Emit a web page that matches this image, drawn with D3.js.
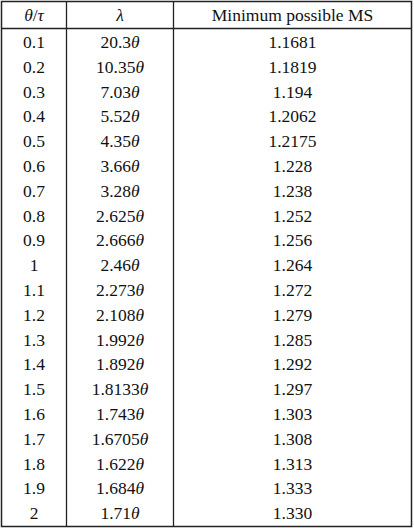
<!DOCTYPE html>
<html><head><meta charset="utf-8">
<script src="https://cdn.jsdelivr.net/npm/d3@7"></script>
<style>body{margin:0;background:#fff}</style>
</head><body><div id="container"></div>
<script>
/* DATA */
const ratios = ["0.1","0.2","0.3","0.4","0.5","0.6","0.7","0.8","0.9","1","1.1","1.2","1.3","1.4","1.5","1.6","1.7","1.8","1.9","2"];
const lambdas = ["20.3","10.35","7.03","5.52","4.35","3.66","3.28","2.625","2.666","2.46","2.273","2.108","1.992","1.892","1.8133","1.743","1.6705","1.622","1.684","1.71"];
const minMS = ["1.1681","1.1819","1.194","1.2062","1.2175","1.228","1.238","1.252","1.256","1.264","1.272","1.279","1.285","1.292","1.297","1.303","1.308","1.313","1.333","1.330"];

const width = 414, height = 528;
const tLeft = 1.5, tRight = 411.5, tTop = 1.5, tBottom = 526.5, headBottom = 28.5;
const colEdges = [tLeft, 66.5, 173.5, tRight];

const svg = d3.select("#container").append("svg")
  .attr("width", width).attr("height", height)
  .style("font-family", "'Liberation Serif', 'DejaVu Serif', serif")
  .style("font-size", "17.5px");

const yScale = d3.scaleBand()
  .domain(d3.range(ratios.length))
  .range([headBottom + 1, tBottom - 1]);

const colCenter = i => (colEdges[i] + colEdges[i + 1]) / 2;

// borders
svg.append("rect").attr("x", tLeft).attr("y", tTop)
  .attr("width", tRight - tLeft).attr("height", tBottom - tTop)
  .attr("fill", "none").attr("stroke", "#222").attr("stroke-width", 1.5);
svg.append("line").attr("x1", tLeft).attr("x2", tRight)
  .attr("y1", headBottom).attr("y2", headBottom)
  .attr("stroke", "#222").attr("stroke-width", 1.3);
svg.selectAll("line.col").data([1, 2]).enter().append("line")
  .attr("class", "col")
  .attr("x1", i => colEdges[i]).attr("x2", i => colEdges[i])
  .attr("y1", tTop).attr("y2", tBottom)
  .attr("stroke", "#222").attr("stroke-width", 1.3);

// header
const head = svg.append("g").attr("text-anchor", "middle").attr("fill", "#111");
const h1 = head.append("text").attr("x", colCenter(0)).attr("y", 21);
h1.append("tspan").style("font-style", "italic").text("θ");
h1.append("tspan").text("/");
h1.append("tspan").style("font-style", "italic").text("τ");
head.append("text").attr("x", colCenter(1)).attr("y", 21).style("font-style", "italic").text("λ");
head.append("text").attr("x", colCenter(2)).attr("y", 21).text("Minimum possible MS");

// rows
const rows = svg.append("g").selectAll("g").data(ratios).enter().append("g")
  .attr("transform", (d, i) => `translate(0,${yScale(i) + yScale.bandwidth() / 2 + 6})`)
  .attr("text-anchor", "middle").attr("fill", "#111");
rows.append("text").attr("x", colCenter(0)).text(d => d);
const lt = rows.append("text").attr("x", colCenter(1));
lt.append("tspan").text((d, i) => lambdas[i]);
lt.append("tspan").style("font-style", "italic").text("θ");
rows.append("text").attr("x", colCenter(2)).text((d, i) => minMS[i]);
</script>
</body></html>
